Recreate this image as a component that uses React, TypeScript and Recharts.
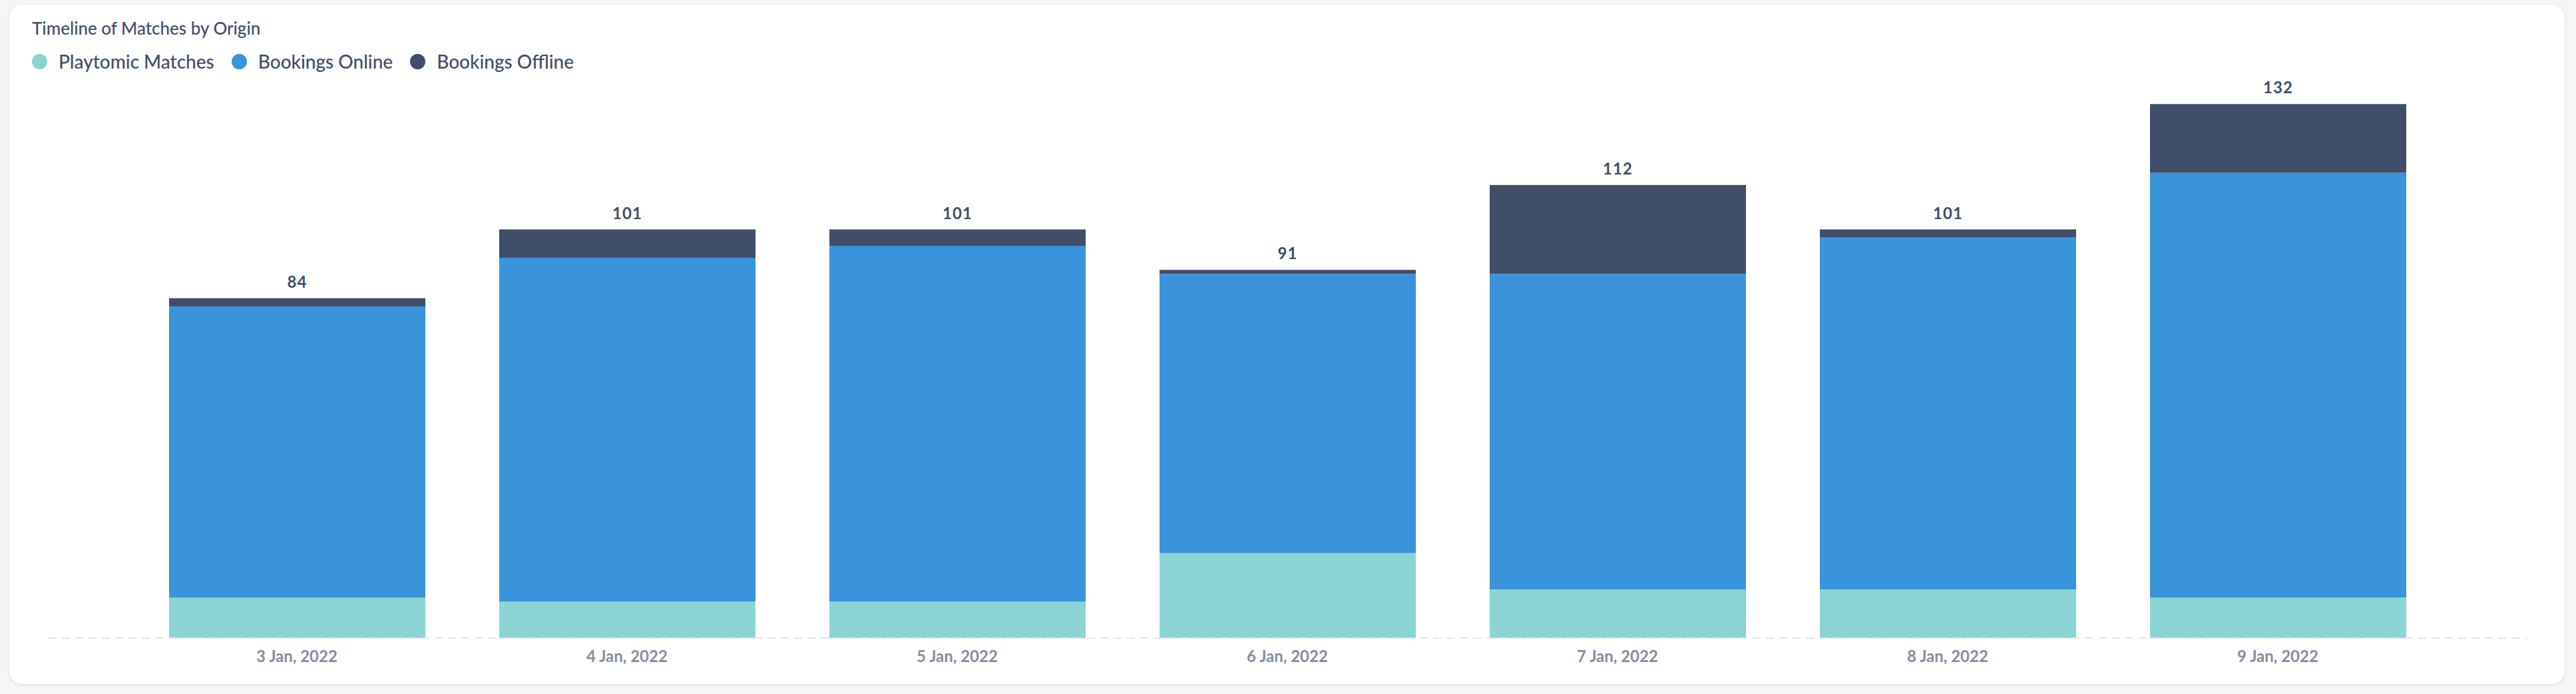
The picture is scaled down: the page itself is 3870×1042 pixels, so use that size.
import { BarChart, Bar, XAxis, YAxis, LabelList } from 'recharts'

const days = ['3 Jan, 2022', '4 Jan, 2022', '5 Jan, 2022', '6 Jan, 2022', '7 Jan, 2022', '8 Jan, 2022', '9 Jan, 2022']
const playtomicMatches = [10, 9, 9, 21, 12, 12, 10]
const bookingsOnline = [72, 85, 88, 69, 78, 87, 105]
const bookingsOffline = [2, 7, 4, 1, 22, 2, 17]

const series = [
  { key: 'playtomic', name: 'Playtomic Matches', color: '#8ad5d3' },
  { key: 'online', name: 'Bookings Online', color: '#3a94db' },
  { key: 'offline', name: 'Bookings Offline', color: '#414e69' },
]

const data = days.map((day, i) => ({
  day,
  playtomic: playtomicMatches[i],
  online: bookingsOnline[i],
  offline: bookingsOffline[i],
  total: playtomicMatches[i] + bookingsOnline[i] + bookingsOffline[i],
}))

const FONT = 'Lato, "Noto Sans", sans-serif'

export default function App() {
  return (
    <div style={{ position: 'relative', width: 3870, height: 1042, background: '#f5f6f8', fontFamily: FONT, overflow: 'hidden' }}>
      <style>{`body { margin: 0; }`}</style>
      <div
        style={{
          position: 'absolute',
          left: 14,
          top: 7,
          width: 3839,
          height: 1020,
          background: '#fff',
          borderRadius: 20,
          boxShadow: '0 1px 5px rgba(40, 50, 70, 0.12)',
        }}
      />
      <div style={{ position: 'absolute', left: 48, top: 26, fontSize: 26, color: '#414d6a', fontWeight: 500 }}>
        Timeline of Matches by Origin
      </div>
      <div style={{ position: 'absolute', left: 48, top: 74, display: 'flex', alignItems: 'center', height: 36 }}>
        {series.map((s) => (
          <div key={s.key} style={{ display: 'flex', alignItems: 'center', marginRight: 26 }}>
            <span style={{ width: 23, height: 23, borderRadius: '50%', background: s.color, display: 'inline-block', marginRight: 17 }} />
            <span style={{ fontSize: 28, color: '#414d6a', fontWeight: 500 }}>{s.name}</span>
          </div>
        ))}
      </div>
      <div style={{ position: 'absolute', left: 0, top: 0 }}>
        <BarChart width={3870} height={1042} data={data} margin={{ top: 47, right: 74, bottom: 54, left: 73 }}>
          <XAxis
            dataKey="day"
            padding={{ left: 125, right: 126 }}
            tickLine={false}
            tickSize={0}
            tickMargin={19}
            axisLine={{ stroke: '#e3e5ea', strokeWidth: 2, strokeDasharray: '12 8' }}
            tick={{ fill: '#858da2', fontSize: 24, fontWeight: 700, fontFamily: FONT }}
            interval={0}
          />
          <YAxis hide domain={[0, 150]} />
          {series.map((s, idx) => (
            <Bar key={s.key} dataKey={s.key} name={s.name} stackId="a" fill={s.color} barSize={385} isAnimationActive={false}>
              {idx === series.length - 1 && (
                <LabelList
                  dataKey="total"
                  position="top"
                  offset={16}
                  style={{ fill: '#414d6a', fontSize: 24, fontWeight: 700, fontFamily: FONT, letterSpacing: 1 }}
                />
              )}
            </Bar>
          ))}
        </BarChart>
      </div>
    </div>
  )
}
